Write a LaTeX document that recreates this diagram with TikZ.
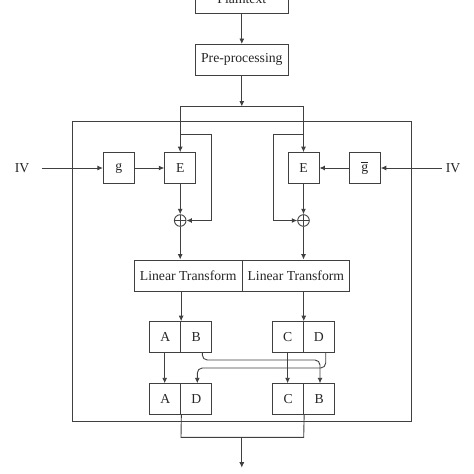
\documentclass[tikz,border=0pt]{standalone}
\usepackage{fontspec}
\setmainfont{Liberation Serif}
\usetikzlibrary{arrows.meta}
\begin{document}
\begin{tikzpicture}[x=1pt,y=-1pt,
  every node/.style={font=\fontsize{13.7}{16}\selectfont, text=black!85},
  blk/.style={draw=black!75, line width=0.9pt, inner sep=0pt, minimum height=30.7pt},
  sq/.style={blk, minimum width=31pt},
  wide/.style={blk, minimum width=92.3pt},
  lt/.style={blk, minimum width=107.7pt, minimum height=31pt},
  ln/.style={draw=black!75, line width=0.9pt},
  arr/.style={ln, -{Latex[length=5.5pt,width=5pt]}},
  xorc/.style={circle, draw=black!75, line width=0.9pt, minimum size=11.6pt, inner sep=0pt,
    path picture={\draw[black!75, line width=0.9pt] (path picture bounding box.north) -- (path picture bounding box.south) (path picture bounding box.west) -- (path picture bounding box.east);}}
]
\useasboundingbox (0,0) rectangle (474,474);
\clip (0,0) rectangle (474,474);

% top boxes
\node[wide] (plain) at (241.8,-1.5) {Plaintext};
\node[wide] (pre) at (241.8,59.8) {Pre-processing};

% outer frame
\draw[ln] (72.7,121.7) rectangle (411,421.7);

% g and E blocks
\node[sq] (gL) at (118.8,168) {g};
\node[sq] (EL) at (180.2,168) {E};
\node[sq] (ER) at (303.5,168) {E};
\node[sq] (gR) at (364.8,168) {$\overline{\mbox{g}}$};
\node (IVL) at (22,168) {IV};
\node (IVR) at (453,168) {IV};
\coordinate (ivLs) at (42,168);
\coordinate (ivRs) at (441.7,168);

% xor
\node[xorc] (xL) at (180.2,220.5) {};
\node[xorc] (xR) at (303.5,220.5) {};

% linear transforms
\node[lt] (LT1) at (188.15,275.5) {Linear Transform};
\node[lt] (LT2) at (295.85,275.5) {Linear Transform};

% halves
\node[sq] (A) at (165.2,337) {A};
\node[sq] (B) at (196.2,337) {B};
\node[sq] (C) at (287.8,337) {C};
\node[sq] (D) at (318.8,337) {D};
\node[sq] (A2) at (165.4,398.7) {A};
\node[sq] (D2) at (196.4,398.7) {D};
\node[sq] (C2) at (288.2,398.7) {C};
\node[sq] (B2) at (319.2,398.7) {B};

% coordinates
\coordinate (split) at (241.8,106.5);
\coordinate (spL) at (180.2,106.5);
\coordinate (spR) at (303.5,106.5);
\coordinate (fbL) at (180.2,134);
\coordinate (fbR) at (303.5,134);
\coordinate (out) at (241.8,467.7);
\coordinate (joinM) at (241.8,437.3);

% top flow
\draw[arr] (plain) -- (pre);
\draw[arr] (pre) -- (split);
\draw[ln] (spL) -- (spR);
\draw[arr] (spL) -- (EL);
\draw[arr] (spR) -- (ER);

% IV and g
\draw[arr] (ivLs) -- (gL);
\draw[arr] (gL) -- (EL);
\draw[arr] (ivRs) -- (gR);
\draw[arr] (gR) -- (ER);

% E to xor, feedback
\draw[arr] (EL) -- (xL);
\draw[arr] (ER) -- (xR);
\draw[arr] (fbL) -- (211.7,134) -- (211.7,220.5) -- (xL.east);
\draw[arr] (fbR) -- (273,134) -- (273,220.5) -- (xR.west);

% xor to LT
\draw[arr] (xL) -- (xL |- LT1.north);
\draw[arr] (xR) -- (xR |- LT2.north);

% LT to halves
\draw[arr] (LT1.south -| A.east) -- (A.north east);
\draw[arr] (LT2.south -| C.east) -- (C.north east);

% permutation
\draw[arr] (164.7,352.3) -- (164.7,383.3);
\draw[arr] (287.6,352.3) -- (287.6,383.3);
\draw[arr, rounded corners=5pt] (202.3,352.3) -- (202.3,360) -- (320,360) -- (320,383.3);
\draw[arr, rounded corners=5pt] (325.7,352.3) -- (325.7,368) -- (197.3,368) -- (197.3,383.3);

% output
\draw[ln] (A2.south east) -- (181,437.3) -- (303.7,437.3) -- (C2.south east);
\draw[arr] (joinM) -- (out);
\end{tikzpicture}
\end{document}
